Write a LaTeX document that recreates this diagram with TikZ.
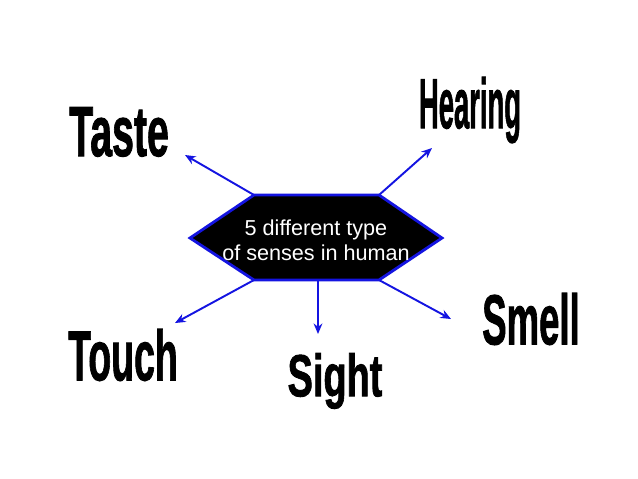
\documentclass[tikz,border=0pt]{standalone}
\usepackage{fontspec}
\setmainfont{Liberation Sans}
\newfontfamily\artfont[BoldFeatures={FakeBold=1.6}]{Liberation Sans}
\usepackage{tikz}
\usetikzlibrary{arrows.meta}
\definecolor{senseblue}{RGB}{20,20,225}
\newcommand{\artword}[3][1.55]{\scalebox{#2}[#1]{\fontsize{26}{26}\artfont\bfseries #3}}
\tikzstyle{hexbox}=[draw=senseblue, fill=black, line width=1.6pt, line join=miter]
\tikzstyle{ray}=[draw=senseblue, line width=1.1pt, -{Stealth[length=6pt, width=5pt]}]
\tikzstyle{sense}=[inner sep=0pt]
\tikzstyle{caption}=[text=white, align=center, font=\fontsize{12.3}{14}\selectfont]

\begin{document}
\begin{tikzpicture}[x=0.02cm, y=-0.02cm]
          \useasboundingbox (0, 0) rectangle (638, 478);
          \coordinate (west) at (190, 238);
          \coordinate (nw) at (254, 195);
          \coordinate (ne) at (379, 195);
          \coordinate (east) at (442, 238);
          \coordinate (se) at (379, 280);
          \coordinate (sw) at (254, 280);
          \coordinate (s) at (318, 280);
          \draw[hexbox] (west) -- (nw) -- (ne) -- (east) -- (se) -- (sw) -- cycle;
          \node[caption] (core) at (316, 240) {5 different type\\of senses in human};

          \node[sense] (taste) at (119, 132) {\artword{0.86}{Taste}};
          \node[sense] (hearing) at (470, 110) {\artword{0.6}{Hearing}};
          \node[sense] (touch) at (123, 355) {\artword{0.82}{Touch}};
          \node[sense] (sight) at (335, 381) {\artword[1.3]{0.83}{Sight}};
          \node[sense] (smell) at (531, 319) {\artword{0.8}{Smell}};

          \coordinate (to_taste) at (185, 155);
          \coordinate (to_hearing) at (432, 148);
          \coordinate (to_touch) at (175, 323);
          \coordinate (to_sight) at (318, 334);
          \coordinate (to_smell) at (451, 319);

          \draw[ray] (nw) to (to_taste);
          \draw[ray] (ne) to (to_hearing);
          \draw[ray] (sw) to (to_touch);
          \draw[ray] (s) to (to_sight);
          \draw[ray] (se) to (to_smell);
        \end{tikzpicture}
\end{document}
